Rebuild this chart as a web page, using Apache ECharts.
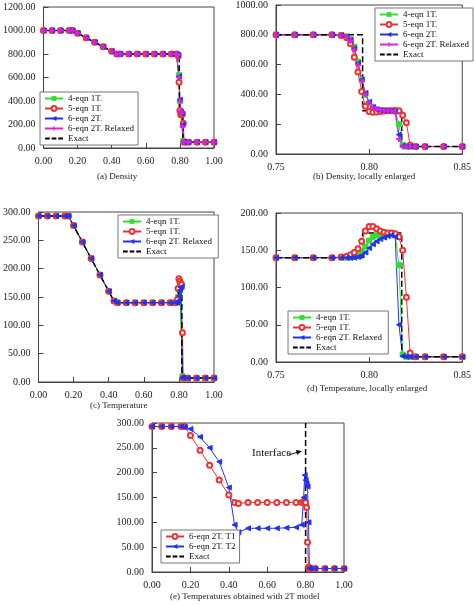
<!DOCTYPE html>
<html><head><meta charset="utf-8">
<script src="https://cdn.jsdelivr.net/npm/echarts@6/dist/echarts.min.js"></script>
<style>html,body{margin:0;padding:0;background:#fff}#c{width:474px;height:605px}</style>
</head><body><div id="c"></div>
<script>
// global x grid
const xG = [0,0.05,0.1,0.15,0.17,0.2,0.25,0.3,0.35,0.4,0.43,0.45,0.5,0.55,0.6,0.65,0.7,0.75,0.78,0.79,0.795,0.8,0.805,0.81,0.815,0.82,0.825,0.85,0.9,0.95,1.0];
// (a) density
const densA4 = [1000,1000,1000,1000,1000,977,938,900,862,823,800,800,800,800,800,800,800,800,800,790,620,400,305,292,290,60,50,50,50,50,50];
const densA5 = [1000,1000,1000,1000,1000,977,938,900,862,823,800,800,800,800,800,800,800,800,800,785,560,320,282,288,291,210,50,50,50,50,50];
const densA6 = [1000,1000,1000,1000,1000,977,938,900,862,823,800,800,800,800,800,800,800,800,800,790,610,410,310,293,200,55,50,50,50,50,50];
const densAR = [1000,1000,1000,1000,1000,977,938,900,862,823,800,800,800,800,800,800,800,800,800,790,600,400,315,295,180,52,50,50,50,50,50];
const exDensAx = [0,0.17,0.43,0.7965,0.7965,0.8175,0.8175,1];
const exDensAy = [1000,1000,800,800,290,290,50,50];
// local x grid
const xL = [0.75,0.76,0.77,0.78,0.785,0.788,0.79,0.792,0.794,0.796,0.798,0.8,0.802,0.804,0.806,0.808,0.81,0.812,0.814,0.816,0.818,0.82,0.822,0.825,0.83,0.84,0.85];
// (b) density local
const densB4 = [800,800,800,800,798,790,770,720,620,500,400,340,310,298,293,291,290,290,288,200,60,50,50,50,50,50,50];
const densB5 = [800,800,800,800,795,780,740,650,550,420,320,285,280,282,285,288,290,290,292,290,260,210,60,50,50,50,50];
const densB6 = [800,800,800,800,797,788,765,710,610,500,410,350,315,300,294,292,291,290,285,130,55,50,50,50,50,50,50];
const densBR = [800,800,800,800,797,785,760,700,600,490,400,345,315,300,295,293,292,291,280,100,50,50,50,50,50,50,50];
const exLx = [0.75,0.7965,0.7965,0.8175,0.8175,0.85];
const exDensBy = [800,800,290,290,50,50];
// (c) temperature global
const tC4 = [293,293,293,293,293,276,247,218,189,160,143,140,140,140,140,140,140,140,140,141,150,165,170,172,170,10,7,7,7,7,7];
const tC5 = [293,293,293,293,293,276,247,218,189,160,143,140,140,140,140,140,140,140,140,145,165,182,178,174,172,87,7,7,7,7,7];
const tCR = [293,293,293,293,293,276,247,218,189,160,143,140,140,140,140,140,140,140,140,140,143,152,162,167,168,8,7,7,7,7,7];
const exTCx = [0,0.17,0.435,0.797,0.797,0.817,0.817,1];
const exTCy = [293,293,140,140,173,173,7,7];
// (d) temperature local
const tD4 = [140,140,140,140,140,140,140,141,143,148,155,163,168,170,171,172,172,172,170,130,10,7,7,7,7,7,7];
const tD5 = [140,140,140,140,141,142,144,147,152,162,176,182,182,179,176,174,173,173,172,168,150,87,12,7,7,7,7];
const tDR = [140,140,140,140,140,140,140,140,141,143,147,153,158,162,165,167,169,170,168,50,8,7,7,7,7,7,7];
const exTDy = [140,140,173,173,7,7];
// (e) two temperatures
const tE1 = [293,293,293,293,293,275,245,215,185,155,140,138,140,140,140,140,140,140,140,141,142,140,130,60,10,7,7,7,7,7,7];
const tE2 = [293,293,293,293,292,288,272,250,222,170,95,80,88,88,88,88,89,90,95,150,195,185,178,172,100,8,7,7,7,7,7];
const exEx = [0.8,0.8];
const exEy = [0,300];

const zip = (xs, ys) => xs.map((x, i) => [x, ys[i]]);
const FONT = 'Liberation Serif';
const plus = 'path://M4,0h2v4h4v2h-4v4h-2v-4h-4v-2h4z';
const ltri = 'triangle';
const dashIcon = 'path://M0,0h5v2h-5zM7,0h5v2h-5zM14,0h5v2h-5z';
function S(name, gi, data, color, symbol, opt) {
  return Object.assign({name, type:'line', xAxisIndex:gi, yAxisIndex:gi, data,
    color, lineStyle:{color, width:1}, itemStyle:{color, borderColor:color},
    symbol, symbolSize:5, showSymbol:true, animation:false}, opt||{});
}
function EX(gi, data) {
  return {name:'Exact', type:'line', xAxisIndex:gi, yAxisIndex:gi, data, symbol:'none',
    color:'#000', itemStyle:{color:'#000'}, lineStyle:{color:'#000', width:1.5, type:'dashed'}, animation:false};
}
const G = '#33dd33', R = '#ee3333', B = '#2233ee', M = '#dd22dd';
const grids = [
  {left:30, top:7, width:184, height:141},
  {left:276, top:5, width:190, height:149},
  {left:30, top:212, width:184, height:170},
  {left:276, top:213, width:190, height:149},
  {left:152, top:423, width:192, height:149}
].map(g => Object.assign(g, {show:true, borderColor:'#444', borderWidth:1}));
const fmt = v => v.toFixed(2);
const xr = [[0,1,0.2],[0.75,0.85,0.05],[0,1,0.2],[0.75,0.85,0.05],[0,1,0.2]];
const yr = [[0,1200,200],[0,1000,200],[0,300,50],[0,200,50],[0,300,50]];
const mkAx = (r,i) => ({type:'value', gridIndex:i, min:r[0], max:r[1], interval:r[2],
  axisLine:{show:true, lineStyle:{color:'#444'}}, axisTick:{show:true, inside:true, lineStyle:{color:'#444'}},
  splitLine:{show:false}, axisLabel:{fontFamily:FONT, fontSize:10, color:'#222', formatter:fmt}});
const xAxis = xr.map(mkAx);
const yAxis = yr.map(mkAx);
const RB = '6-eqn 2T. Relaxed ';
const series = [
  S('4-eqn 1T.',0,zip(xG,densA4),G,'rect'), S('5-eqn 1T.',0,zip(xG,densA5),R,'emptyCircle'),
  S('6-eqn 2T.',0,zip(xG,densA6),B,ltri,{symbolRotate:90}), S('6-eqn 2T. Relaxed',0,zip(xG,densAR),M,plus), EX(0,zip(exDensAx,exDensAy)),
  S('4-eqn 1T.',1,zip(xL,densB4),G,'rect'), S('5-eqn 1T.',1,zip(xL,densB5),R,'emptyCircle'),
  S('6-eqn 2T.',1,zip(xL,densB6),B,ltri,{symbolRotate:90}), S('6-eqn 2T. Relaxed',1,zip(xL,densBR),M,plus), EX(1,zip(exLx,exDensBy)),
  S('4-eqn 1T.',2,zip(xG,tC4),G,'rect'), S('5-eqn 1T.',2,zip(xG,tC5),R,'emptyCircle'),
  S(RB,2,zip(xG,tCR),B,ltri,{symbolRotate:90}), EX(2,zip(exTCx,exTCy)),
  S('4-eqn 1T.',3,zip(xL,tD4),G,'rect'), S('5-eqn 1T.',3,zip(xL,tD5),R,'emptyCircle'),
  S(RB,3,zip(xL,tDR),B,ltri,{symbolRotate:90}), EX(3,zip(exLx,exTDy)),
  S('6-eqn 2T. T1',4,zip(xG,tE1),R,'emptyCircle'), S('6-eqn 2T. T2',4,zip(xG,tE2),B,ltri,{symbolRotate:90}), EX(4,zip(exEx,exEy))
];
const legBase = {orient:'vertical', backgroundColor:'#fff', borderColor:'#777', borderWidth:1, padding:[2,4], itemGap:1,
  itemWidth:18, itemHeight:6, textStyle:{fontFamily:FONT, fontSize:9, color:'#111'}, selectedMode:false};
const exItem = {name:'Exact', icon:dashIcon, itemStyle:{color:'#000'}};
const legend = [
  Object.assign({left:40, top:92, data:['4-eqn 1T.','5-eqn 1T.','6-eqn 2T.','6-eqn 2T. Relaxed',exItem]}, legBase),
  Object.assign({left:375, top:8, data:['4-eqn 1T.','5-eqn 1T.','6-eqn 2T.','6-eqn 2T. Relaxed',exItem]}, legBase),
  Object.assign({left:118, top:215, data:['4-eqn 1T.','5-eqn 1T.',RB,exItem]}, legBase),
  Object.assign({left:288, top:311, data:['4-eqn 1T.','5-eqn 1T.',RB,exItem]}, legBase),
  Object.assign({left:161, top:530, data:['6-eqn 2T. T1','6-eqn 2T. T2',exItem]}, legBase)
];
const cap = (x,y,t) => ({type:'text', left:x, top:y, style:{text:t, fontFamily:FONT, fontSize:9, fill:'#222'}});
const chart = echarts.init(document.getElementById('c'), null, {renderer:'canvas'});
chart.setOption({
  animation:false, grid:grids, xAxis, yAxis, series, legend,
  graphic:[
    cap(97,172,'(a) Density'), cap(313,172,'(b) Density, locally enlarged'),
    cap(90,401,'(c) Temperature'), cap(307,384,'(d) Temperature, locally enlarged'),
    cap(170,592,'(e) Temperatures obtained with 2T model'),
    {type:'text', left:252, top:448, style:{text:'Interface', fontFamily:FONT, fontSize:11, fill:'#111'}},
    {type:'line', shape:{x1:289,y1:455,x2:298,y2:452}, style:{stroke:'#111', lineWidth:1}},
    {type:'polygon', shape:{points:[[302,451],[296,450],[297,455]]}, style:{fill:'#111'}}
  ]
});
</script></body></html>
